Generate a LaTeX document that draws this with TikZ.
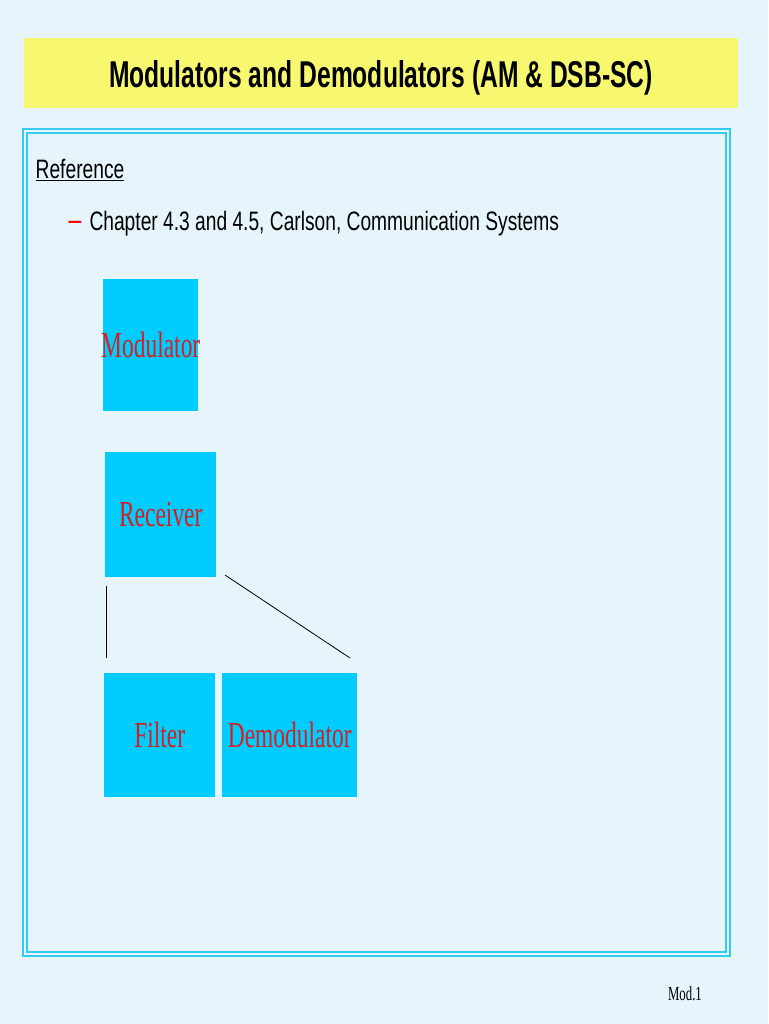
\documentclass[tikz,border=0pt]{standalone}
\usepackage{fontspec}
\setmainfont{Liberation Sans}
\newfontfamily\narrowsans[FakeStretch=0.72]{Liberation Sans}
\newfontfamily\titlesans[FakeStretch=0.66]{Liberation Sans}
\newfontfamily\narrowserif[FakeStretch=0.64]{Liberation Serif}
\definecolor{bg}{HTML}{E6F5FC}
\definecolor{band}{HTML}{F8F870}
\definecolor{boxc}{HTML}{00CCFF}
\definecolor{frame}{HTML}{33CCEE}
\definecolor{lbl}{HTML}{D42020}
\begin{document}
\begin{tikzpicture}[x=0.75pt,y=-0.75pt,
  blk/.style={fill=boxc,draw=none,inner sep=0pt,anchor=north west},
  blab/.style={font=\narrowserif\fontsize{27.5}{30}\selectfont,text=lbl}]
\useasboundingbox (0,0) rectangle (768,1024);
\fill[bg] (0,0) rectangle (768,1024);
\fill[band] (24,38) rectangle (738,108);
\node[font=\titlesans\bfseries\fontsize{28}{32}\selectfont] (title) at (381,78) {Modulators and Demodulators (AM \& DSB-SC)};
\draw[frame,line width=1.5pt,double=bg,double distance=1.5pt] (25,131) rectangle (728,954);
\node[anchor=west,font=\narrowsans\fontsize{20}{24}\selectfont] (ref) at (31,170) {\underline{Reference}};
\node[anchor=west,font=\narrowsans\fontsize{20}{24}\selectfont] (ch) at (64,224) {\textcolor{red}{\fontsize{24}{24}\selectfont\textendash}\hspace{6pt}Chapter 4.3 and 4.5, Carlson, Communication Systems};
\node[blk,minimum width=71.25pt,minimum height=99pt] (mod) at (103,279) {};
\node[blab] at (mod.center) {Modulator};
\node[blk,minimum width=83.25pt,minimum height=93.75pt] (rec) at (105,452) {};
\node[blab] at (rec.center) {Receiver};
\node[blk,minimum width=83.25pt,minimum height=93pt] (fil) at (104,673) {};
\node[blab] at (fil.center) {Filter};
\node[blk,minimum width=101.25pt,minimum height=93pt] (dem) at (222,673) {};
\node[blab] at (dem.center) {Demodulator};
\coordinate (a1) at (106,586); \coordinate (a2) at (106,658);
\coordinate (b1) at (225,575); \coordinate (b2) at (350,658);
\draw[line width=0.6pt] (a1) -- (a2);
\draw[line width=0.6pt] (b1) -- (b2);
\node[font=\narrowserif\fontsize{15}{16}\selectfont] (pg) at (685,994) {Mod.1};
\end{tikzpicture}
\end{document}
